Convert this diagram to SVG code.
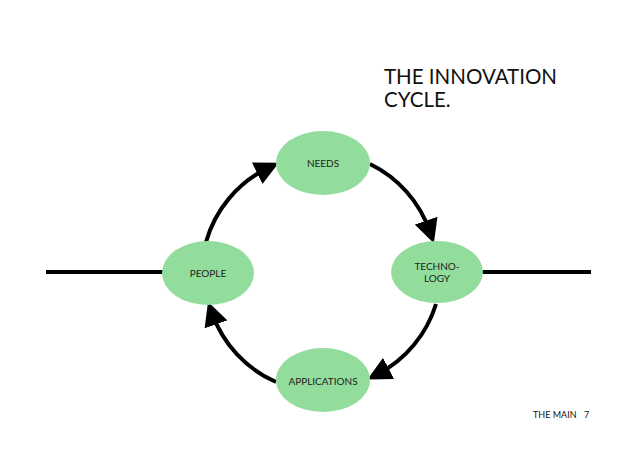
<svg xmlns="http://www.w3.org/2000/svg" width="638" height="451" viewBox="0 0 638 451">
<style>
.n{fill:#93dd9c}
.t{font-family:"Lato","Liberation Sans",sans-serif;font-size:10px;fill:#222;text-anchor:middle}
.c{fill:none;stroke:#000;stroke-width:4}
.h{font-family:"Lato","Liberation Sans",sans-serif;font-size:20.5px;fill:#111}
</style>
<defs><marker id="a" markerWidth="6" markerHeight="6" refX="3" refY="3" orient="auto" markerUnits="strokeWidth"><path d="M0,0L6,3L0,6z" fill="#000"/></marker></defs>
<rect width="638" height="451" fill="#fff"/>
<g id="connectors">
<line class="c" x1="46" y1="272" x2="163" y2="272"/>
<line class="c" x1="482" y1="272" x2="591" y2="272"/>
<path class="c" d="M206,242 A118,118 0 0 1 268,168" marker-end="url(#a)"/>
<path class="c" d="M370,164 A118,118 0 0 1 430,232" marker-end="url(#a)"/>
<path class="c" d="M436,304 A118,118 0 0 1 378,374" marker-end="url(#a)"/>
<path class="c" d="M276,382 A118,118 0 0 1 212,313" marker-end="url(#a)"/>
</g>
<g id="needs"><ellipse class="n" cx="323" cy="163" rx="47" ry="32"/><text class="t" x="323" y="167">NEEDS</text></g>
<g id="technology"><ellipse class="n" cx="437" cy="272" rx="46" ry="31"/><text class="t" x="437" y="270">TECHNO-</text><text class="t" x="437" y="282">LOGY</text></g>
<g id="people"><ellipse class="n" cx="208" cy="273" rx="46" ry="32"/><text class="t" x="208" y="277">PEOPLE</text></g>
<g id="applications"><ellipse class="n" cx="323" cy="380" rx="47" ry="32"/><text class="t" x="323" y="385">APPLICATIONS</text></g>
<text class="h" x="384" y="84">THE INNOVATION</text>
<text class="h" x="384" y="107">CYCLE.</text>
<text x="533" y="418" font-family="Lato,'Liberation Sans',sans-serif" font-size="9" fill="#111">THE MAIN</text>
<text x="584" y="418" font-family="Lato,'Liberation Sans',sans-serif" font-size="9" fill="#111">7</text>
</svg>
